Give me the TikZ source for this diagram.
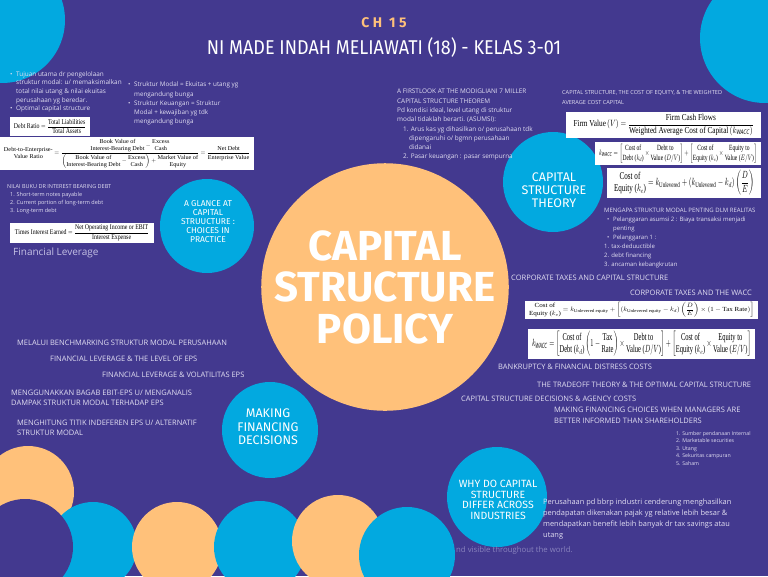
\documentclass[tikz,border=0pt]{standalone}
\usepackage{fontspec}
\usepackage{amsmath}
\usepackage{graphicx}
\usepackage{tikz}
\usetikzlibrary{positioning}
\setmainfont{Open Sans}
\newfontfamily\headfont{Fira Sans}
\newfontfamily\eqfont{Liberation Serif}
\definecolor{bgpurple}{RGB}{67,57,143}
\definecolor{bubblecyan}{RGB}{2,169,224}
\definecolor{bubblepeach}{RGB}{255,193,122}
\definecolor{textlav}{RGB}{226,223,242}
\definecolor{softlav}{RGB}{196,192,228}
\definecolor{fadedlav}{RGB}{137,131,190}
\newcommand{\twoline}[1]{\begin{tabular}{@{}c@{}}#1\end{tabular}}
\newcommand{\bul}{\makebox[6pt][l]{\textbullet}}

\begin{document}
\begin{tikzpicture}[
  x=1pt, y=-1pt,
  bubble/.style={circle, fill=bubblecyan, inner sep=0pt},
  bubbletext/.style={text=white, align=center, inner sep=0pt, font=\headfont},
  note/.style={text=textlav, align=left, inner sep=0pt, anchor=north west},
  caps/.style={text=textlav, inner sep=0pt, anchor=west, font=\fontsize{7.5}{8}\selectfont},
  eqbox/.style={rectangle, fill=white, inner sep=0pt, font=\eqfont}
]
\useasboundingbox (0,0) rectangle (768,576);
\clip (0,0) rectangle (768,576);
\fill[bgpurple] (0,0) rectangle (768,576);

% Corner circles
\fill[bubblecyan] (2,20) circle (63pt);
\fill[bubblecyan] (765,38) circle (65pt);

% Title
\node[text=bubblepeach, font=\headfont\bfseries\fontsize{14}{14}\selectfont\addfontfeature{LetterSpace=25}] (chapter) at (384,23) {CH 15};
\node[text=white, font=\headfont\fontsize{20}{20}\selectfont] (author) at (384,47) {\scalebox{0.9}[1]{NI MADE INDAH MELIAWATI (18) - KELAS 3-01}};

% Central topic
\node[circle, fill=bubblepeach, minimum size=236, inner sep=0pt, text=white, align=center,
  font=\headfont\bfseries\fontsize{42}{41.5}\selectfont] (policy) at (385,287) {CAPITAL\\STRUCTURE\\POLICY};

% Sub topics
\node[bubble, minimum size=94] (glancec) at (207,226) {};
\node[bubbletext, font=\headfont\fontsize{8.5}{9}\selectfont] (glance) at (208,222) {A GLANCE AT\\CAPITAL\\STRUUCTURE :\\CHOICES IN\\PRACTICE};
\node[bubble, minimum size=100] (theoryc) at (553,182) {};
\node[bubbletext, font=\headfont\fontsize{12.5}{13}\selectfont] (theory) at (554,190) {CAPITAL\\STRUCTURE\\THEORY};
\node[bubble, minimum size=96] (makingc) at (270,430) {};
\node[bubbletext, font=\headfont\fontsize{12.5}{13.5}\selectfont] (making) at (268,427) {MAKING\\FINANCING\\DECISIONS};
\node[bubble, minimum size=100] (whyc) at (497,497) {};
\node[bubbletext, font=\headfont\fontsize{10.5}{10.7}\selectfont] (why) at (498,500) {WHY DO CAPITAL\\STRUCTURE\\DIFFER ACROSS\\INDUSTRIES};

% Glance notes
\node[note, font=\fontsize{6.4}{8.7}\selectfont] (goal) at (10,71) {\bul Tujuan utama dr pengelolaan\\\hspace*{6pt}struktur modal: u/ memaksimalkan\\\hspace*{6pt}total nilai utang \& nilai ekuitas\\\hspace*{6pt}perusahaan yg beredar.\\\bul Optimal capital structure};
\node[note, font=\fontsize{6.3}{9.2}\selectfont] (modal) at (128,82) {\bul Struktur Modal = Ekuitas + utang yg\\\hspace*{6pt}mengandung bunga\\\bul Struktur Keuangan = Struktur\\\hspace*{6pt}Modal + kewajiban yg tdk\\\hspace*{6pt}mengandung bunga};
\node[note, font=\fontsize{5.5}{8}\selectfont] (bookvalue) at (7,184) {NILAI BUKU DR INTEREST BEARING DEBT\\\hspace*{3pt}1. Short-term notes payable\\\hspace*{3pt}2. Current portion of long-term debt\\\hspace*{3pt}3. Long-term debt};
\node[text=softlav, inner sep=0pt, anchor=west, font=\fontsize{10}{11}\selectfont] (leverage) at (13,253) {Financial Leverage};

\node[eqbox, minimum width=80, minimum height=19] (debtratio) at (50,126.5) {\resizebox*{72pt}{15pt}{$\text{Debt Ratio} = \dfrac{\text{Total Liabilities}}{\text{Total Assets}}$}};
\node[eqbox, minimum width=254, minimum height=33] (devratio) at (127,153.5) {\resizebox*{246pt}{30pt}{$\twoline{Debt-to-Enterprise-\\Value Ratio} = \dfrac{\twoline{Book Value of\\Interest-Bearing Debt} - \twoline{Excess\\Cash}}{\left(\twoline{Book Value of\\Interest-Bearing Debt} - \twoline{Excess\\Cash}\right) + \twoline{Market Value of\\Equity}} = \dfrac{\text{Net Debt}}{\text{Enterprise Value}}$}};
\node[eqbox, minimum width=144, minimum height=20] (tie) at (82,233) {\resizebox*{134pt}{16pt}{$\text{Times Interest Earned} = \dfrac{\text{Net Operating Income or EBIT}}{\text{Interest Expense}}$}};

% Theory notes
\node[note, font=\fontsize{6.4}{9.3}\selectfont] (mm) at (397,89) {A FIRSTLOOK AT THE MODIGLIANI 7 MILLER\\CAPITAL STRUCTURE THEOREM\\Pd kondisi ideal, level utang di struktur\\modal tidaklah berarti. (ASUMSI):\\\hspace*{6pt}1. Arus kas yg dihasilkan o/ perusahaan tdk\\\hspace*{12pt}dipengaruhi o/ bgmn perusahaan\\\hspace*{12pt}didanai\\\hspace*{6pt}2. Pasar keuangan : pasar sempurna};
\node[note, font=\fontsize{5.6}{10}\selectfont] (wacctitle) at (562,90) {CAPITAL STRUCTURE, THE COST OF EQUITY, \& THE WEIGHTED\\AVERAGE COST CAPITAL};
\node[note, font=\fontsize{6}{9}\selectfont] (reality) at (604,208) {MENGAPA STRUKTUR MODAL PENTING DLM REALITAS\\\hspace*{3pt}\bul Pelanggaran asumsi 2 : Biaya transaksi menjadi\\\hspace*{9pt}penting\\\hspace*{3pt}\bul Pelanggaran 1 :\\1. tax-deduuctible\\2. debt financing\\3. ancaman kebangkrutan};

\node[eqbox, minimum width=195, minimum height=26] (firmvalue) at (663.5,125) {\resizebox*{180pt}{21pt}{$\text{Firm Value}\,(V) = \dfrac{\text{Firm Cash Flows}}{\text{Weighted Average Cost of Capital}\,(k_{\mathit{WACC}})}$}};
\node[eqbox, minimum width=166, minimum height=23] (wacc) at (678,153.5) {\resizebox*{158pt}{19pt}{$k_{\mathit{WACC}} = \left[\twoline{Cost of\\Debt ($k_d$)} \times \twoline{Debt to\\Value ($D/V$)}\right] + \left[\twoline{Cost of\\Equity ($k_e$)} \times \twoline{Equity to\\Value ($E/V$)}\right]$}};
\node[eqbox, minimum width=154, minimum height=30] (costequity) at (684,183) {\resizebox*{140pt}{25pt}{$\twoline{Cost of\\Equity ($k_e$)} = k_{\text{Unlevered}} + (k_{\text{Unlevered}} - k_d)\left(\dfrac{D}{E}\right)$}};

% Taxes and decisions
\node[caps] (taxes) at (511,278) {CORPORATE TAXES AND CAPITAL STRUCTURE};
\node[caps, anchor=east] (taxwacc) at (752,292.5) {CORPORATE TAXES AND THE WACC};
\node[eqbox, minimum width=233, minimum height=18] (taxequity) at (641.5,310) {\resizebox*{225pt}{15pt}{$\twoline{Cost of\\Equity ($k_e$)} = k_{\text{Unlevered equity}} + \left[(k_{\text{Unlevered equity}} - k_d)\left(\dfrac{D}{E}\right) \times (1 - \text{Tax Rate})\right]$}};
\node[eqbox, minimum width=227, minimum height=30] (taxwaccbox) at (641.5,344) {\resizebox*{219pt}{25pt}{$k_{\mathit{WACC}} = \left[\twoline{Cost of\\Debt ($k_d$)}\left(1 - \twoline{Tax\\Rate}\right) \times \twoline{Debt to\\Value ($D/V$)}\right] + \left[\twoline{Cost of\\Equity ($k_e$)} \times \twoline{Equity to\\Value ($E/V$)}\right]$}};
\node[caps] (bankruptcy) at (498,367) {BANKRUPTCY \& FINANCIAL DISTRESS COSTS};
\node[caps] (tradeoff) at (537,385) {THE TRADEOFF THEORY \& THE OPTIMAL CAPITAL STRUCTURE};
\node[caps] (agency) at (461,399) {CAPITAL STRUCTURE DECISIONS \& AGENCY COSTS};
\node[note, font=\fontsize{7.5}{10.5}\selectfont] (informed) at (554,407) {MAKING FINANCING CHOICES WHEN MANAGERS ARE\\BETTER INFORMED THAN SHAREHOLDERS};
\node[note, font=\fontsize{5.2}{7.6}\selectfont] (pecking) at (676,431) {1. Sumber pendanaan Internal\\2. Marketable securities\\3. Utang\\4. Sekuritas campuran\\5. Saham};

% Financing notes
\node[caps] (benchmark) at (17,343) {MELALUI BENCHMARKING STRUKTUR MODAL PERUSAHAAN};
\node[caps] (levelEPS) at (50,359) {FINANCIAL LEVERAGE \& THE LEVEL OF EPS};
\node[caps] (volEPS) at (102,375) {FINANCIAL LEVERAGE \& VOLATILITAS EPS};
\node[note, font=\fontsize{7.5}{10}\selectfont] (ebiteps) at (11,389.5) {MENGGUNAKKAN BAGAB EBIT-EPS U/ MENGANALIS\\DAMPAK STRUKTUR MODAL TERHADAP EPS};
\node[note, font=\fontsize{7.5}{10}\selectfont] (indiff) at (17,419.5) {MENGHITUNG TITIK INDEFEREN EPS U/ ALTERNATIF\\STRUKTUR MODAL};

% Industries note
\node[note, font=\fontsize{7.4}{11}\selectfont] (industry) at (543,499) {Perusahaan pd bbrp industri cenderung menghasilkan\\pendapatan dikenakan pajak yg relative lebih besar \&\\mendapatkan benefit lebih banyak dr tax savings atau\\utang};
\node[text=fadedlav, inner sep=0pt, anchor=west, font=\fontsize{7.8}{8}\selectfont] (world) at (456,550) {nd visible throughout the world.};

% Bottom circles
\fill[bubblepeach] (28,492) circle (46pt);
\fill[bubblecyan] (93,546) circle (44pt);
\fill[bgpurple] (25,547) circle (48pt);
\fill[bubblepeach] (177,547) circle (45pt);
\fill[bubblecyan] (260,547) circle (46pt);
\fill[bubblepeach] (338,541) circle (46pt);
\fill[bubblecyan] (407,555) circle (48pt);

\end{tikzpicture}
\end{document}
